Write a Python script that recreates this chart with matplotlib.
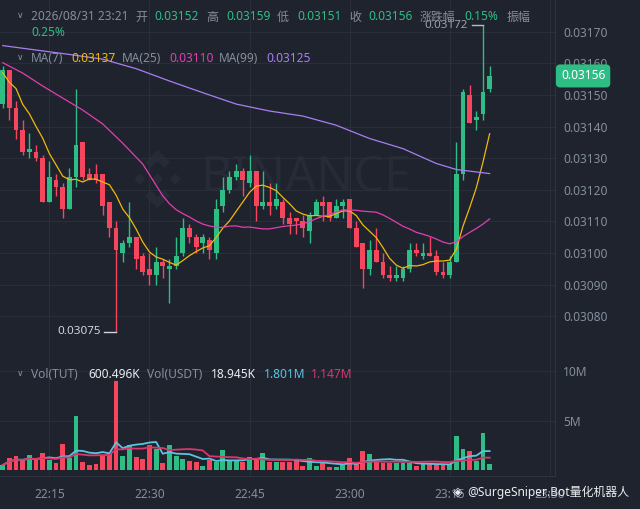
import matplotlib
matplotlib.use("Agg")
import matplotlib.pyplot as plt
import numpy as np
import pandas as pd
from matplotlib.patches import Polygon
from matplotlib.transforms import IdentityTransform, blended_transform_factory

plt.rcParams['font.family'] = ['Noto Sans', 'Noto Sans CJK SC', 'DejaVu Sans']

# 1-minute candles, 22:08 .. 23:21
opens = [0.03147, 0.03158, 0.03146, 0.03139, 0.03132, 0.03132, 0.03130, 0.03116, 0.03123, 0.03121,
         0.03114, 0.03124, 0.03135, 0.03125, 0.03125, 0.03125, 0.03116, 0.03108, 0.03100, 0.03103,
         0.03105, 0.03099, 0.03095, 0.03093, 0.03097, 0.03095, 0.03096, 0.03100, 0.03108, 0.03105,
         0.03103, 0.03104, 0.03100, 0.03115, 0.03120, 0.03124, 0.03126, 0.03122, 0.03126, 0.03115,
         0.03116, 0.03115, 0.03116, 0.03111, 0.03111, 0.03110, 0.03107, 0.03112, 0.03116, 0.03116,
         0.03111, 0.03115, 0.03117, 0.03108, 0.03103, 0.03095, 0.03101, 0.03097, 0.03093, 0.03092,
         0.03092, 0.03095, 0.03101, 0.03099, 0.03100, 0.03099, 0.03094, 0.03093, 0.03097, 0.03125,
         0.03150, 0.03142, 0.03144, 0.03152]
highs = [0.03159, 0.03158, 0.03148, 0.03142, 0.03138, 0.03134, 0.03131, 0.03129, 0.03125, 0.03122,
         0.03127, 0.03152, 0.03135, 0.03127, 0.03128, 0.03125, 0.03116, 0.03110, 0.03104, 0.03116,
         0.03105, 0.03100, 0.03100, 0.03102, 0.03098, 0.03098, 0.03105, 0.03111, 0.03109, 0.03106,
         0.03106, 0.03105, 0.03117, 0.03124, 0.03126, 0.03128, 0.03127, 0.03131, 0.03126, 0.03126,
         0.03122, 0.03122, 0.03117, 0.03113, 0.03111, 0.03112, 0.03113, 0.03117, 0.03118, 0.03116,
         0.03117, 0.03117, 0.03117, 0.03110, 0.03103, 0.03104, 0.03108, 0.03100, 0.03096, 0.03096,
         0.03096, 0.03103, 0.03103, 0.03103, 0.03105, 0.03101, 0.03097, 0.03099, 0.03135, 0.03152,
         0.03153, 0.03145, 0.03172, 0.03159]
lows = [0.03146, 0.03142, 0.03136, 0.03131, 0.03130, 0.03129, 0.03116, 0.03116, 0.03118, 0.03111,
        0.03114, 0.03121, 0.03123, 0.03123, 0.03122, 0.03112, 0.03105, 0.03075, 0.03097, 0.03102,
        0.03095, 0.03093, 0.03090, 0.03090, 0.03092, 0.03084, 0.03095, 0.03099, 0.03103, 0.03100,
        0.03100, 0.03098, 0.03098, 0.03113, 0.03119, 0.03123, 0.03118, 0.03121, 0.03110, 0.03114,
        0.03112, 0.03114, 0.03109, 0.03106, 0.03106, 0.03105, 0.03103, 0.03112, 0.03110, 0.03110,
        0.03111, 0.03111, 0.03108, 0.03102, 0.03089, 0.03093, 0.03097, 0.03092, 0.03091, 0.03091,
        0.03091, 0.03094, 0.03099, 0.03098, 0.03099, 0.03093, 0.03092, 0.03092, 0.03097, 0.03123,
        0.03141, 0.03139, 0.03142, 0.03151]
closes = [0.03158, 0.03146, 0.03139, 0.03132, 0.03133, 0.03130, 0.03116, 0.03124, 0.03121, 0.03114,
          0.03124, 0.03134, 0.03124, 0.03123, 0.03123, 0.03115, 0.03108, 0.03101, 0.03103, 0.03105,
          0.03098, 0.03094, 0.03093, 0.03097, 0.03096, 0.03096, 0.03099, 0.03108, 0.03105, 0.03102,
          0.03105, 0.03101, 0.03114, 0.03120, 0.03124, 0.03126, 0.03123, 0.03126, 0.03115, 0.03116,
          0.03115, 0.03117, 0.03111, 0.03109, 0.03110, 0.03108, 0.03112, 0.03116, 0.03115, 0.03111,
          0.03115, 0.03116, 0.03108, 0.03102, 0.03095, 0.03101, 0.03097, 0.03093, 0.03092, 0.03093,
          0.03095, 0.03101, 0.03100, 0.03100, 0.03099, 0.03094, 0.03093, 0.03097, 0.03125, 0.03151,
          0.03141, 0.03143, 0.03151, 0.03156]
# volume in millions TUT
volumes = [0.5, 1.23, 1.4, 1.0, 1.57, 1.0, 1.73, 1.0, 0.67, 2.63,
           1.23, 5.5, 0.77, 0.5, 0.6, 1.5, 1.73, 9.0, 1.4, 2.5,
           1.27, 1.1, 2.5, 2.1, 0.67, 2.57, 1.4, 1.07, 0.9, 0.77,
           0.4, 1.0, 0.83, 2.0, 0.9, 0.9, 0.83, 1.27, 1.1, 1.7,
           0.8, 0.85, 0.85, 0.8, 0.9, 0.45, 1.2, 0.45, 0.7, 0.35,
           0.35, 0.5, 1.2, 0.7, 1.9, 1.59, 0.91, 0.68, 0.74, 0.68,
           0.74, 0.68, 0.4, 0.57, 0.57, 0.57, 0.57, 0.57, 3.45, 2.1,
           1.96, 0.95, 3.78, 0.600496]

ma7_head = [0.03157, 0.03154, 0.03152, 0.03147, 0.03144, 0.03140]
ma25_head_idx = [0, 3, 6, 9, 12, 15, 18, 21]
ma25_head = [0.031602, 0.031569, 0.031528, 0.031490, 0.031452, 0.031408, 0.031347, 0.031281]
ma99_idx = [0, 5, 10, 15, 20, 25, 30, 35, 40, 45, 50, 55, 60, 65, 68, 73]
ma99_vals = [0.031656, 0.031642, 0.031628, 0.031613, 0.031583, 0.031544, 0.031507, 0.031471,
             0.031449, 0.031433, 0.031404, 0.031362, 0.031330, 0.031283, 0.031264, 0.031251]

time_tick_idx = [7, 22, 37, 52, 67, 82]
time_tick_labels = ['22:15', '22:30', '22:45', '23:00', '23:15', '23:30']
price_ticks = [0.03080, 0.03090, 0.03100, 0.03110, 0.03120, 0.03130, 0.03140, 0.03150, 0.03160, 0.03170]
vol_ticks = [5, 10]
vol_tick_labels = ['5M', '10M']

BG = '#1f232e'
GRID = '#2a2e39'
UP = '#2ebd85'
DOWN = '#f6465d'
GRAY = '#848e9c'
W, H = 640, 509

n = len(closes)
idx = np.arange(n)
o = np.array(opens); c = np.array(closes); hi = np.array(highs); lo = np.array(lows)
cols = [UP if c[i] >= o[i] else DOWN for i in range(n)]

fig = plt.figure(figsize=(W / 100, H / 100), dpi=100, facecolor=BG)
ax = fig.add_axes([0, 1 - 357 / H, 555 / W, 357 / H], facecolor=BG)
axv = fig.add_axes([0, 1 - 476 / H, 555 / W, 119 / H], facecolor=BG, sharex=ax)

# price panel
ax.vlines(idx, lo, hi, colors=cols, lw=1.0, zorder=3)
ax.bar(idx, np.maximum(np.abs(c - o), 3.5e-6), bottom=np.minimum(o, c), width=0.72,
       color=cols, zorder=4)

cs = pd.Series(closes)
ma7 = cs.rolling(7).mean().to_numpy()
ma7[:6] = ma7_head
ma25 = cs.rolling(25).mean().to_numpy()
ax.plot(idx, ma7, color='#f0b90b', lw=0.9, zorder=5)
ax.plot(ma25_head_idx + list(range(24, n)), ma25_head + list(ma25[24:]),
        color='#e13fb0', lw=0.9, zorder=5)
ax.plot(ma99_idx, ma99_vals, color='#a97ef2', lw=0.9, zorder=5)

ax.set_xlim(-0.405, 82.8)
ax.set_ylim(0.0306706, 0.0318003)
ax.yaxis.tick_right()
ax.set_yticks(price_ticks)
ax.set_yticklabels(['%.5f' % p for p in price_ticks])
ax.set_xticks(time_tick_idx)
ax.tick_params(axis='y', length=0, pad=5.8, labelsize=8.6, labelcolor=GRAY)
ax.tick_params(axis='x', length=0, labelbottom=False)
ax.grid(True, color=GRID, lw=0.8, zorder=0)
for s in ['top', 'left']:
    ax.spines[s].set_visible(False)
for s in ['right', 'bottom']:
    ax.spines[s].set_color('#2e3340')

# high / low markers
imax = int(np.argmax(hi)); imin = int(np.argmin(lo))
ax.plot([imax - 1.6, imax], [hi[imax]] * 2, color='#b7bdc6', lw=1, zorder=6)
ax.annotate('%.5f' % hi[imax], xy=(imax, hi[imax]), xytext=(-15, 0), textcoords='offset pixels',
            ha='right', va='center', color='#9aa1ab', fontsize=8.4)
ax.plot([imin - 1.8, imin], [lo[imin]] * 2, color='#d0d4dc', lw=1, zorder=6)
ax.annotate('%.5f' % lo[imin], xy=(imin, lo[imin]), xytext=(-15, 0), textcoords='offset pixels',
            ha='right', va='center', color='#d0d4dc', fontsize=8.4)

# last price tag
tr = blended_transform_factory(ax.transAxes, ax.transData)
ax.text(1 + 6 / 555, c[-1], '%.5f' % c[-1], transform=tr, ha='left', va='center',
        color='white', fontsize=8.6, clip_on=False, zorder=10,
        bbox=dict(boxstyle='round,pad=0.42,rounding_size=0.35', fc=UP, ec='none'))

# faint watermark
WM = '#262b37'
ax.text(200 / 555, (357 - 179) / 357, 'BINANCE', transform=ax.transAxes, ha='left', va='center',
        fontsize=35, fontweight='bold', color=WM, zorder=1)
cx, cy, s = 157.5, 179, 29
shapes = [
    [(0, 0.19), (0.19, 0), (0, -0.19), (-0.19, 0)],
    [(-0.62, 0.19), (-0.43, 0), (-0.62, -0.19), (-0.81, 0)],
    [(0.62, 0.19), (0.81, 0), (0.62, -0.19), (0.43, 0)],
    [(0, 1), (0.43, 0.57), (0.24, 0.38), (0, 0.62), (-0.24, 0.38), (-0.43, 0.57)],
    [(0, -1), (0.43, -0.57), (0.24, -0.38), (0, -0.62), (-0.24, -0.38), (-0.43, -0.57)],
]
for sh in shapes:
    pts = [(cx + s * px, H - (cy - s * py)) for px, py in sh]
    fig.patches.append(Polygon(pts, closed=True, fc=WM, ec='none', transform=IdentityTransform(),
                               zorder=0.5))
# draw logo patches under axes content: move them into price axes
for p in list(fig.patches):
    fig.patches.remove(p)
    p.set_transform(IdentityTransform())
    ax.add_artist(p)
    p.set_zorder(1)

# volume panel
vol = np.array(volumes)
axv.bar(idx, vol, width=0.72, color=cols, zorder=3)
vs = pd.Series(volumes)
axv.plot(idx, vs.rolling(7, min_periods=1).mean(), color='#5bc4e0', lw=1.3, zorder=4)
axv.plot(idx, vs.rolling(14, min_periods=1).mean(), color='#d9376e', lw=1.3, zorder=4)
axv.set_ylim(-0.61, 11.46)
axv.yaxis.tick_right()
axv.set_yticks(vol_ticks)
axv.set_yticklabels(vol_tick_labels)
axv.set_xticks(time_tick_idx)
axv.set_xticklabels(time_tick_labels)
axv.tick_params(axis='y', length=0, pad=5.8, labelsize=8.6, labelcolor=GRAY)
axv.tick_params(axis='x', length=0, pad=9, labelsize=8.6, labelcolor=GRAY)
axv.grid(True, color=GRID, lw=0.8, zorder=0)
for sp in ['top', 'left']:
    axv.spines[sp].set_visible(False)
for sp in ['right', 'bottom']:
    axv.spines[sp].set_color('#2e3340')


def ftxt(x, y, txt, color, size=8.6, **kw):
    fig.text(x / W, 1 - y / H, txt, color=color, fontsize=size, ha='left', va='center', **kw)


# header
G = UP
ftxt(17, 16, '∨', GRAY, 6.5, family='DejaVu Sans')
for x, t, col in [(31, '2026/08/31 23:21', GRAY), (135, '开', GRAY), (154, '0.03152', G),
                  (206, '高', GRAY), (226, '0.03159', G), (277, '低', GRAY), (297, '0.03151', G),
                  (349, '收', GRAY), (368, '0.03156', G), (420, '涨跌幅', GRAY), (464, '0.15%', G),
                  (507, '振幅', GRAY)]:
    ftxt(x, 17, t, col)
ftxt(31, 33, '0.25%', G)
ftxt(17, 58, '∨', GRAY, 6.5, family='DejaVu Sans')
for x, t, col in [(31, 'MA(7)', GRAY), (71, '0.03137', '#f0b90b'), (122, 'MA(25)', GRAY),
                  (169, '0.03110', '#e13fb0'), (219, 'MA(99)', GRAY), (266, '0.03125', '#a97ef2')]:
    ftxt(x, 59, t, col)
ftxt(17, 374, '∨', GRAY, 6.5, family='DejaVu Sans')
for x, t, col in [(31, 'Vol(TUT)', GRAY), (88, '600.496K', '#eaecef'), (147, 'Vol(USDT)', GRAY),
                  (211, '18.945K', '#eaecef'), (264, '1.801M', '#5bc4e0'), (311, '1.147M', '#d9376e')]:
    ftxt(x, 375, t, col)

# bottom-right watermark
ftxt(453, 492, '◈', '#eaecef', 9, family='DejaVu Sans')
ftxt(467, 492, '@SurgeSniper.Bot量化机器人', '#eaecef', 8.6)

fig.savefig('out.png', dpi=100, facecolor=BG)
